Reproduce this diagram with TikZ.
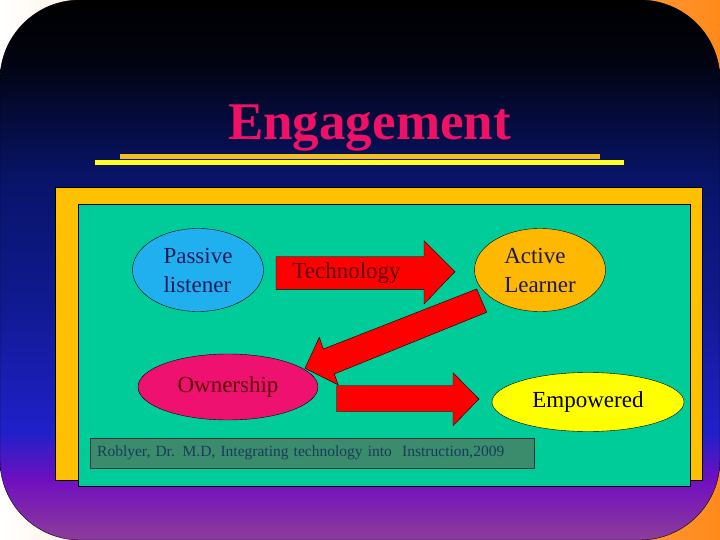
\documentclass[tikz,border=0pt]{standalone}
\usepackage{fontspec}
\setmainfont{Liberation Serif}
\usepackage{xcolor}
\usetikzlibrary{positioning,shapes.geometric}
\definecolor{bgTop}{HTML}{000000}
\definecolor{bgNavy}{HTML}{081468}
\definecolor{bgMid}{HTML}{101A90}
\definecolor{bgBlue}{HTML}{2020C8}
\definecolor{bgViolet}{HTML}{7010C0}
\definecolor{bgPlum}{HTML}{8E3C9A}
\definecolor{cornerorange}{HTML}{FF8A1A}
\definecolor{titlepink}{HTML}{EE1166}
\definecolor{barlow}{HTML}{FFFF22}
\definecolor{barhigh}{HTML}{F0C020}
\definecolor{framegold}{HTML}{FFC000}
\definecolor{boardteal}{HTML}{00CC99}
\definecolor{passiveblue}{HTML}{20B0F0}
\definecolor{activeorange}{HTML}{FFB800}
\definecolor{ownpink}{HTML}{EE1170}
\definecolor{empyellow}{HTML}{FFFF00}
\definecolor{arrowred}{HTML}{FF0000}
\definecolor{techtext}{HTML}{5A0000}
\definecolor{citefill}{HTML}{3A8C6C}
\definecolor{citetext}{HTML}{1C3A5A}
\definecolor{inktext}{HTML}{1A1A5A}
% path box is mapped onto 25bp..75bp of the shading
\pgfdeclareverticalshading{slidebg}{100bp}{color(0bp)=(bgPlum); color(25bp)=(bgPlum); color(30.5bp)=(bgViolet); color(35bp)=(bgBlue); color(47bp)=(bgMid); color(58.5bp)=(bgNavy); color(69.5bp)=(bgTop!85!bgNavy); color(75bp)=(bgTop); color(100bp)=(bgTop)}

\begin{document}
\begin{tikzpicture}[x=1pt,y=-1pt,
   bubble/.style={ellipse,draw=black,thin,inner sep=0pt,align=left,
     font=\fontsize{23}{29}\selectfont},
   blockarrow/.style={fill=arrowred,draw=black,thin},
   citebox/.style={rectangle,draw=black!80,fill=citefill,inner xsep=7pt,
     minimum height=30pt,text width=430pt,align=left,
     text=citetext,font=\fontsize{15.5}{17}\selectfont}]
\useasboundingbox (0,0) rectangle (720,540);
\fill[left color=white,right color=cornerorange] (0,0) rectangle (720,540);
\path[shading=slidebg,draw=black,rounded corners=80pt] (0,0) rectangle (720,540);
% title and rules
\node[anchor=base,text=titlepink,font=\fontsize{53}{60}\selectfont\bfseries]
   (title) at (369.5,140) {Engagement};
\fill[barhigh] (120,154) rectangle (600,159);
\fill[barlow] (95,160) rectangle (624,165);
% boards
\draw[fill=framegold,draw=black] (55,187) rectangle (702,480);
\draw[fill=boardteal,draw=black] (78,204) rectangle (690,486);
% stages
\node[bubble,fill=passiveblue,text=inktext,minimum width=131pt,minimum height=83pt]
   (passive) at (198,270) {Passive\\listener};
\node[bubble,fill=activeorange,text=inktext,minimum width=131pt,minimum height=83pt]
   (active) at (540,270) {Active\\Learner};
\node[bubble,fill=ownpink,text=techtext,minimum width=180pt,minimum height=66pt]
   (owner) at (228,387) {Ownership};
\node[bubble,fill=empyellow,text=black,minimum width=192pt,minimum height=59pt]
   (empower) at (588,402) {Empowered};
% block arrows
\draw[blockarrow] (276,256.7) -- (424,256.7) -- (424,240.7) -- (455,271.7)
   -- (424,304) -- (424,289.3) -- (276,289.3) -- cycle;
\node[anchor=base,text=techtext,font=\fontsize{23}{29}\selectfont]
   (tech) at (346.5,278.5) {Technology};
\draw[blockarrow] (476.7,289) -- (323.3,349) -- (319.3,337.3) -- (305,368.3)
   -- (338.3,385) -- (334.3,374) -- (486.7,312.3) -- cycle;
\draw[blockarrow] (336.7,385.5) -- (453,385.5) -- (453,372.7) -- (479,399)
   -- (453,425.7) -- (453,411.7) -- (336.7,411.7) -- cycle;
% source
\node[citebox,anchor=west] (cite) at (90,453)
   {Roblyer, Dr. M.D, Integrating technology into\ \ Instruction,2009};
\end{tikzpicture}
\end{document}
